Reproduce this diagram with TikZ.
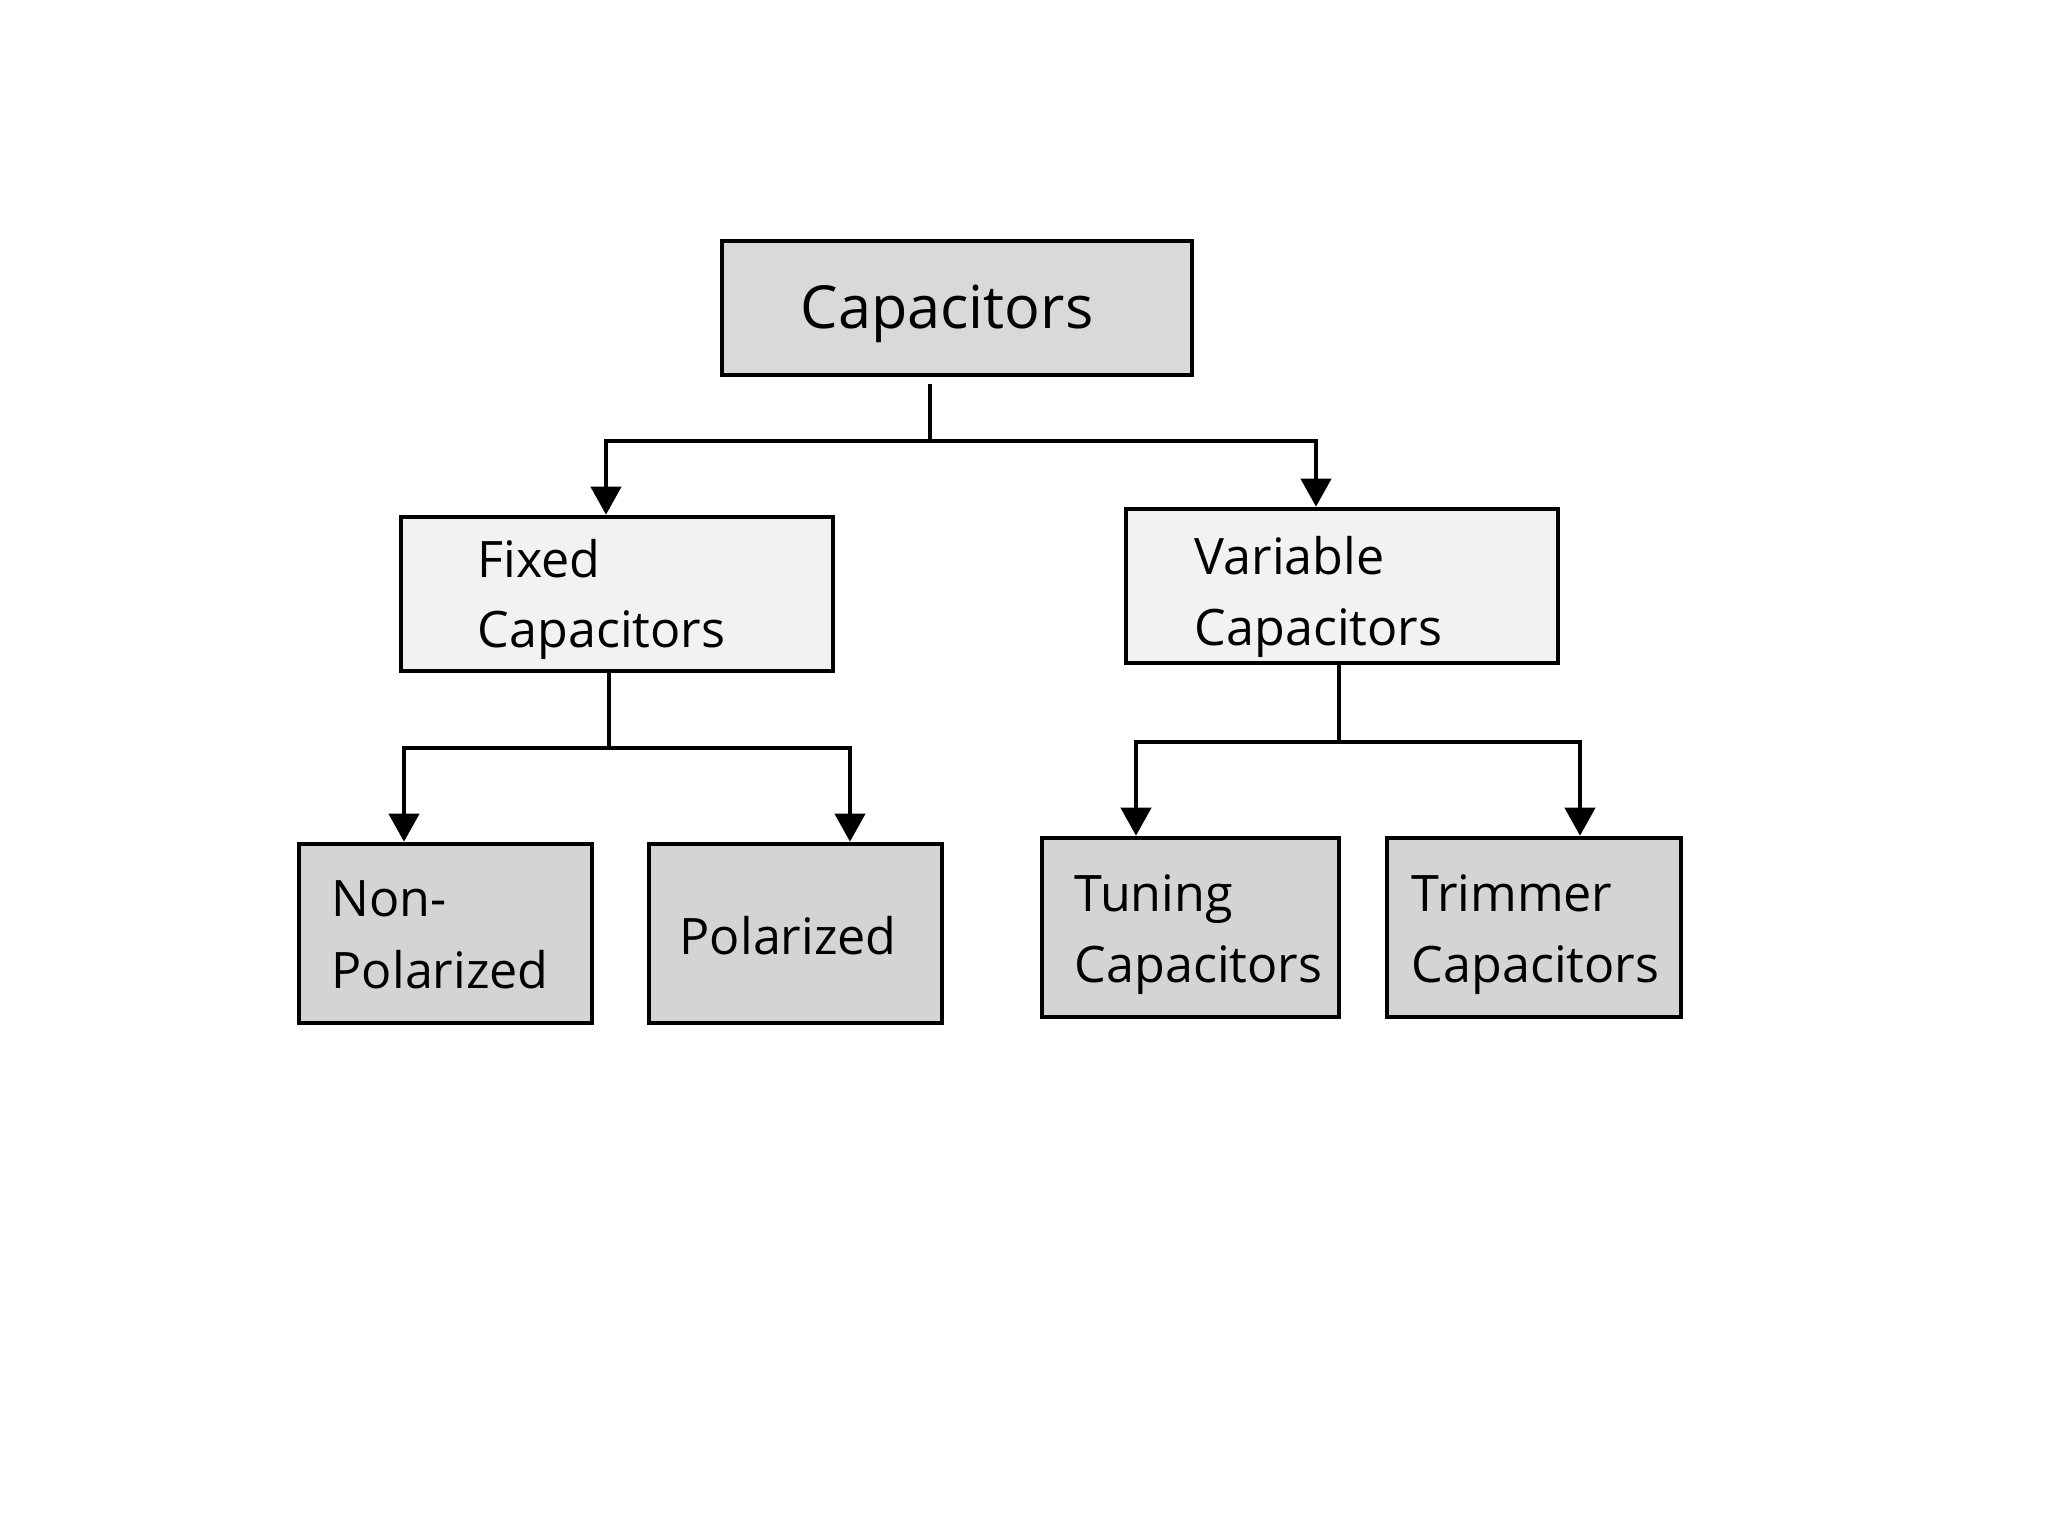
\documentclass[tikz,border=0pt]{standalone}
\usepackage{fontspec}
\setmainfont{Open Sans}
\usetikzlibrary{arrows.meta}
\definecolor{topgray}{HTML}{D9D9D9}
\definecolor{midgray}{HTML}{F2F2F2}
\definecolor{lowgray}{HTML}{D5D3D4}
\begin{document}
\begin{tikzpicture}[
  box/.style={draw=black, line width=1.3pt, rectangle, inner sep=0pt},
  txt/.style={anchor=base west, inner sep=0pt, text=black},
  big/.style={txt, font=\fontsize{16.9}{20}\selectfont},
  small/.style={txt, font=\fontsize{14.3}{18}\selectfont},
  conn/.style={line width=1.2pt, draw=black},
  arr/.style={conn, -{Triangle[width=0.30cm,length=0.28cm]}}
]
\useasboundingbox (0,0) rectangle (20.48,-15.34);
\fill[white] (0,0) rectangle (20.48,-15.34);

% boxes
\node[box, fill=topgray, minimum width=4.70cm, minimum height=1.34cm] (cap) at (9.57,-3.08) {};
\node[box, fill=midgray, minimum width=4.32cm, minimum height=1.54cm] (fix) at (6.17,-5.94) {};
\node[box, fill=midgray, minimum width=4.32cm, minimum height=1.54cm] (var) at (13.42,-5.86) {};
\node[box, fill=lowgray, minimum width=2.93cm, minimum height=1.79cm] (non) at (4.455,-9.335) {};
\node[box, fill=lowgray, minimum width=2.93cm, minimum height=1.79cm] (pol) at (7.955,-9.335) {};
\node[box, fill=lowgray, minimum width=2.97cm, minimum height=1.79cm] (tun) at (11.905,-9.275) {};
\node[box, fill=lowgray, minimum width=2.94cm, minimum height=1.79cm] (tri) at (15.34,-9.275) {};

% texts
\node[big] (tcap) at (8.00,-3.29) {Capacitors};
\node[small] (tfix1) at (4.77,-5.78) {Fixed};
\node[small] (tfix2) at (4.77,-6.48) {Capacitors};
\node[small] (tvar1) at (11.94,-5.75) {Variable};
\node[small] (tvar2) at (11.94,-6.46) {Capacitors};
\node[small] (tnon1) at (3.31,-9.17) {Non-};
\node[small] (tnon2) at (3.31,-9.89) {Polarized};
\node[small] (tpol) at (6.79,-9.55) {Polarized};
\node[small] (ttun1) at (10.74,-9.12) {Tuning};
\node[small] (ttun2) at (10.74,-9.83) {Capacitors};
\node[small] (ttri1) at (14.11,-9.12) {Trimmer};
\node[small] (ttri2) at (14.11,-9.83) {Capacitors};

% junctions and arrow columns
\coordinate (j1) at (9.30,-4.41);
\coordinate (a1) at (6.06,-4.41);
\coordinate (a2) at (13.16,-4.41);
\coordinate (j2) at (6.09,-7.48);
\coordinate (b1) at (4.04,-7.48);
\coordinate (b2) at (8.50,-7.48);
\coordinate (j3) at (13.39,-7.42);
\coordinate (c1) at (11.36,-7.42);
\coordinate (c2) at (15.80,-7.42);

% connectors
\draw[conn] (j1 |- cap.south) ++(0,-0.07) -- (j1);
\draw[arr] (j1) -| (a1 |- fix.north);
\draw[arr] (j1) -| (a2 |- var.north);
\draw[conn] (j2 |- fix.south) -- (j2);
\draw[arr] (j2) -| (b1 |- non.north);
\draw[arr] (j2) -| (b2 |- pol.north);
\draw[conn] (j3 |- var.south) -- (j3);
\draw[arr] (j3) -| (c1 |- tun.north);
\draw[arr] (j3) -| (c2 |- tri.north);
\end{tikzpicture}
\end{document}
